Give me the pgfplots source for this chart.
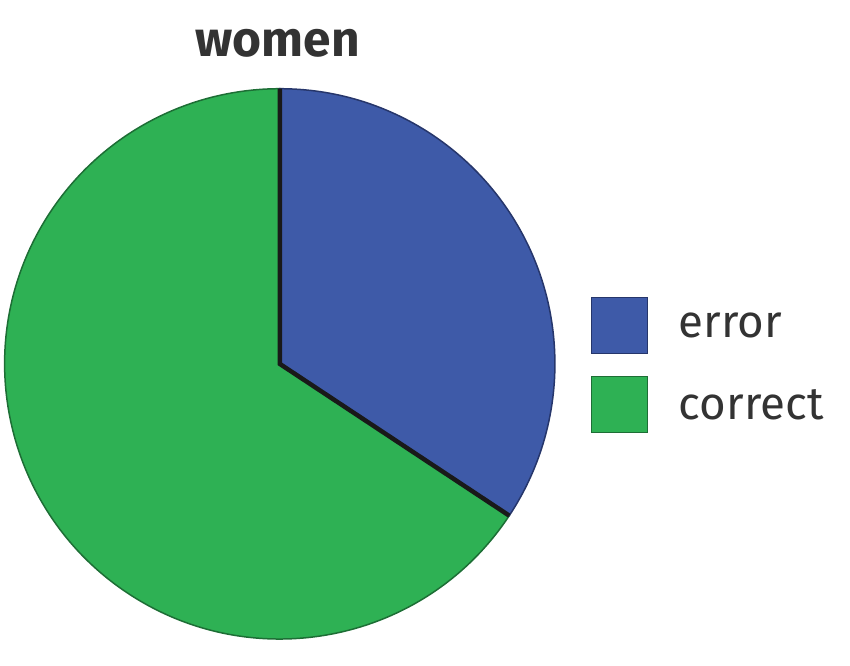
\documentclass[border=0pt]{standalone}
\usepackage{pgfplots}
\pgfplotsset{compat=1.18}
\usepackage{pgfplotstable}
\usetikzlibrary{calc}
\usepackage{fontspec}
\setmainfont{Fira Sans}
\definecolor{pieblue}{HTML}{3E5AA8}
\definecolor{piegreen}{HTML}{2EB154}
\definecolor{edgeblue}{HTML}{26366B}
\definecolor{edgegreen}{HTML}{1D6E35}
\definecolor{txt}{HTML}{333333}
\pgfplotstableread{
label value
error 34.3
correct 65.7
}\piedata
\begin{document}
\pgfplotstablegetelem{0}{value}\of\piedata \let\vA\pgfplotsretval
\pgfplotstablegetelem{1}{value}\of\piedata \let\vB\pgfplotsretval
\pgfmathsetmacro\angA{90-360*\vA/(\vA+\vB)}
\begin{tikzpicture}
\begin{axis}[
  hide axis, scale only axis, width=850bp, height=668bp,
  xmin=0, xmax=850, ymin=0, ymax=668, clip=false,
  legend image code/.code={\draw[#1] (0bp,-28bp) rectangle (56bp,28bp);},
  legend style={at={(axis cs:590,370)}, anchor=north west, draw=none, fill=none,
    font=\fontsize{46}{52}\selectfont, text=txt, row sep=22bp, inner sep=0pt,
    column sep=0pt,
    nodes={inner sep=0pt, anchor=west}},
  legend cell align=left,
]
\addlegendimage{fill=pieblue, draw=edgeblue, line width=1.2bp}
\addlegendentry{\hspace{31bp}error}
\addlegendimage{fill=piegreen, draw=edgegreen, line width=1.2bp}
\addlegendentry{\hspace{31bp}correct}
% correct slice
\filldraw[fill=piegreen, draw=edgegreen, line width=1.5bp]
  (axis cs:278,303) -- ++(\angA:276bp) arc[start angle=\angA, end angle=-270, radius=276bp] -- cycle;
% error slice
\filldraw[fill=pieblue, draw=edgeblue, line width=1.5bp]
  (axis cs:278,303) -- ++(90:276bp) arc[start angle=90, end angle=\angA, radius=276bp] -- cycle;
\draw[line width=4.5bp, black!90, line join=miter]
  ($(axis cs:278,303)+(\angA:276bp)$) -- (axis cs:278,303) -- ++(90:276bp);
\node[font=\bfseries\fontsize{50}{60}\selectfont, text=txt, anchor=base] at (axis cs:276,611) {women};
\end{axis}
\pgfresetboundingbox
\path[use as bounding box] (0,0) rectangle (850bp,668bp);
\end{tikzpicture}
\end{document}
